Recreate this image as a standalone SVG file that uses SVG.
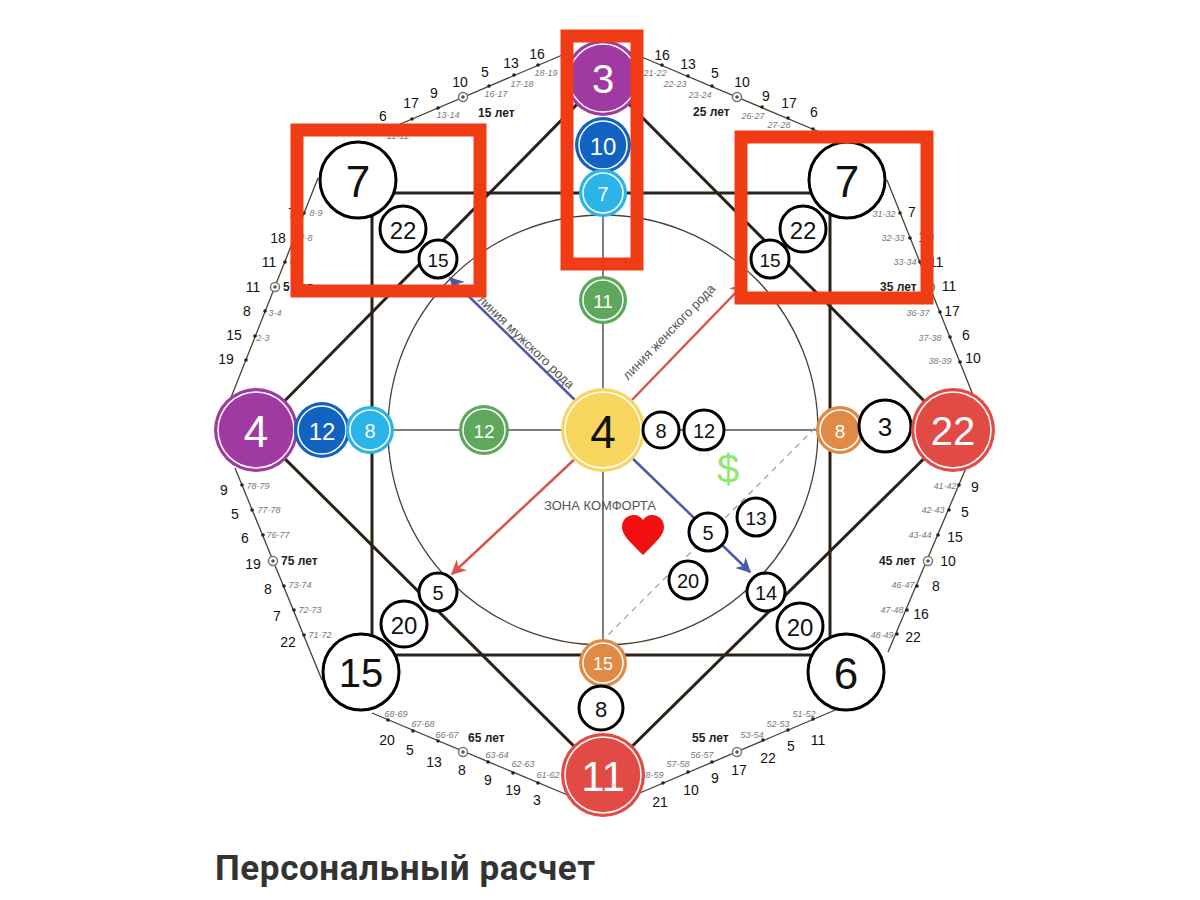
<svg xmlns="http://www.w3.org/2000/svg" width="1200" height="900" viewBox="0 0 1200 900">
<style>
.n{font-family:"Liberation Sans",Arial,sans-serif;font-size:14px;fill:#111;text-anchor:middle;dominant-baseline:central}
.a{font-family:"Liberation Sans",Arial,sans-serif;font-size:9px;font-style:italic;fill:#777;text-anchor:middle;dominant-baseline:central}
.y{font-family:"Liberation Sans",Arial,sans-serif;font-size:12px;font-weight:bold;fill:#222;dominant-baseline:central}
.c{font-family:"Liberation Sans",Arial,sans-serif;fill:#fff;text-anchor:middle;dominant-baseline:central}
.k{font-family:"Liberation Sans",Arial,sans-serif;fill:#111;text-anchor:middle;dominant-baseline:central}
.w{fill:#fff;stroke:#000;stroke-width:3}
.ring{fill:none;stroke:#fff;stroke-width:1.5}
.seg{stroke:#4a4030;stroke-width:1.3;fill:none}
.thick{stroke:#2a2118;stroke-width:3;fill:none}
.thin{stroke:#555;stroke-width:1.5;fill:none}
.box{fill:none;stroke:#f03c14;stroke-width:13}
</style>
<defs>
<marker id="mb" viewBox="0 0 10 10" refX="9" refY="5" markerWidth="6" markerHeight="6" orient="auto"><path d="M0,0 L10,5 L0,10 L3,5z" fill="#4a5aa8"/></marker>
<marker id="mr" viewBox="0 0 10 10" refX="9" refY="5" markerWidth="6" markerHeight="6" orient="auto"><path d="M0,0 L10,5 L0,10 L3,5z" fill="#d9534f"/></marker>
</defs>
<rect width="1200" height="900" fill="#fff"/>
<g id="connectors">
<circle cx="603" cy="430" r="215" class="seg"/>
<rect x="372" y="193" width="458" height="462" class="thick"/>
<path d="M603,78 L953,430 L603,775 L256,430 Z" class="thick"/>
<path d="M603,217 V640 M394,430 H930" class="thin"/>
<path d="M815,428 L605,638" stroke="#999" stroke-width="1.2" stroke-dasharray="6,5"/>
<path d="M577,402 L450,278" stroke="#4a5aa8" stroke-width="2.5" marker-end="url(#mb)"/>
<path d="M630,402 L744,284" stroke="#d9534f" stroke-width="2.5" marker-end="url(#mr)"/>
<path d="M578,456 L452,574" stroke="#d9534f" stroke-width="2.5" marker-end="url(#mr)"/>
<path d="M630,456 L750,572" stroke="#4a5aa8" stroke-width="2.5" marker-end="url(#mb)"/>
<path d="M377,134 L567,53 M625,50 L822,133 M887,180 L973,395 M966,468 L888,652 M840,708 L635,795 M372,713 L570,796 M235,468 L322,680 M318,178 L230,400" class="seg"/>
</g>
<g id="line-labels" font-family="Liberation Sans,Arial,sans-serif" font-size="13" fill="#555">
<text transform="translate(523,345) rotate(44)" text-anchor="middle">линия мужского рода</text>
<text transform="translate(672,335) rotate(-46)" text-anchor="middle">линия женского рода</text>
</g>
<g id="ticks" fill="#222">
<circle cx="412" cy="119" r="1.8"/><circle cx="438" cy="108" r="1.8"/><circle cx="489" cy="86" r="1.8"/><circle cx="514" cy="75" r="1.8"/><circle cx="538" cy="65" r="1.8"/>
<circle cx="662" cy="65" r="1.8"/><circle cx="688" cy="76" r="1.8"/><circle cx="712" cy="86" r="1.8"/><circle cx="762" cy="107" r="1.8"/><circle cx="788" cy="118" r="1.8"/><circle cx="813" cy="129" r="1.8"/>
<circle cx="900" cy="213" r="1.8"/><circle cx="910" cy="238" r="1.8"/><circle cx="920" cy="262" r="1.8"/><circle cx="940" cy="312" r="1.8"/><circle cx="950" cy="337" r="1.8"/><circle cx="960" cy="362" r="1.8"/>
<circle cx="959" cy="485" r="1.8"/><circle cx="949" cy="510" r="1.8"/><circle cx="938" cy="535" r="1.8"/><circle cx="917" cy="586" r="1.8"/><circle cx="907" cy="610" r="1.8"/><circle cx="897" cy="634" r="1.8"/>
<circle cx="663" cy="783" r="1.8"/><circle cx="688" cy="772" r="1.8"/><circle cx="712" cy="762" r="1.8"/><circle cx="763" cy="740" r="1.8"/><circle cx="788" cy="730" r="1.8"/><circle cx="813" cy="719" r="1.8"/>
<circle cx="388" cy="720" r="1.8"/><circle cx="413" cy="731" r="1.8"/><circle cx="438" cy="741" r="1.8"/><circle cx="488" cy="762" r="1.8"/><circle cx="513" cy="773" r="1.8"/><circle cx="538" cy="783" r="1.8"/>
<circle cx="242" cy="485" r="1.8"/><circle cx="252" cy="510" r="1.8"/><circle cx="263" cy="535" r="1.8"/><circle cx="284" cy="586" r="1.8"/><circle cx="294" cy="610" r="1.8"/><circle cx="304" cy="635" r="1.8"/>
<circle cx="304" cy="213" r="1.8"/><circle cx="294" cy="238" r="1.8"/><circle cx="285" cy="262" r="1.8"/><circle cx="265" cy="311" r="1.8"/><circle cx="255" cy="336" r="1.8"/><circle cx="246" cy="360" r="1.8"/>
<g fill="#fff" stroke="#777" stroke-width="1.5"><circle cx="463" cy="97" r="4.5"/><circle cx="737" cy="97" r="4.5"/><circle cx="930" cy="287" r="4.5"/><circle cx="928" cy="561" r="4.5"/><circle cx="737" cy="752" r="4.5"/><circle cx="463" cy="752" r="4.5"/><circle cx="273" cy="561" r="4.5"/><circle cx="275" cy="287" r="4.5"/></g>
<g fill="#555"><circle cx="463" cy="97" r="1.8"/><circle cx="737" cy="97" r="1.8"/><circle cx="930" cy="287" r="1.8"/><circle cx="928" cy="561" r="1.8"/><circle cx="737" cy="752" r="1.8"/><circle cx="463" cy="752" r="1.8"/><circle cx="273" cy="561" r="1.8"/><circle cx="275" cy="287" r="1.8"/></g>
</g>
<g id="scale-labels">
<text class="n" x="383" y="116">6</text><text class="n" x="411" y="103">17</text><text class="n" x="434" y="93">9</text><text class="n" x="460" y="82">10</text><text class="n" x="485" y="72">5</text><text class="n" x="511" y="63">13</text><text class="n" x="537" y="54">16</text>
<text class="a" x="398" y="136">11-12</text><text class="a" x="448" y="115">13-14</text><text class="y" x="478" y="113">15 лет</text><text class="a" x="496" y="94">16-17</text><text class="a" x="522" y="84">17-18</text><text class="a" x="546" y="73">18-19</text>
<text class="n" x="662" y="55">16</text><text class="n" x="688" y="64">13</text><text class="n" x="715" y="73">5</text><text class="n" x="742" y="82">10</text><text class="n" x="766" y="96">9</text><text class="n" x="789" y="103">17</text><text class="n" x="814" y="112">6</text>
<text class="a" x="655" y="73">21-22</text><text class="a" x="675" y="84">22-23</text><text class="a" x="700" y="95">23-24</text><text class="y" x="693" y="112">25 лет</text><text class="a" x="753" y="116">26-27</text><text class="a" x="779" y="125">27-28</text>
<text class="n" x="912" y="212">7</text><text class="a" x="884" y="214">31-32</text><text class="n" x="926" y="237">10</text><text class="a" x="893" y="238">32-33</text><text class="n" x="936" y="262">11</text><text class="a" x="905" y="262">33-34</text>
<text class="n" x="949" y="286">11</text><text class="y" x="880" y="287">35 лет</text><text class="n" x="952" y="311">17</text><text class="a" x="918" y="313">36-37</text><text class="n" x="966" y="335">6</text><text class="a" x="930" y="338">37-38</text><text class="n" x="973" y="358">10</text><text class="a" x="940" y="361">38-39</text>
<text class="n" x="975" y="487">9</text><text class="a" x="945" y="486">41-42</text><text class="n" x="965" y="512">5</text><text class="a" x="933" y="510">42-43</text><text class="n" x="955" y="537">15</text><text class="a" x="920" y="535">43-44</text>
<text class="n" x="948" y="561">10</text><text class="y" x="879" y="561">45 лет</text><text class="n" x="936" y="586">8</text><text class="a" x="903" y="585">46-47</text><text class="n" x="921" y="614">16</text><text class="a" x="892" y="610">47-48</text><text class="n" x="913" y="637">22</text><text class="a" x="882" y="635">48-49</text>
<text class="n" x="818" y="740">11</text><text class="a" x="804" y="714">51-52</text><text class="n" x="791" y="746">5</text><text class="a" x="778" y="724">52-53</text><text class="n" x="768" y="758">22</text><text class="a" x="752" y="735">53-54</text>
<text class="n" x="739" y="770">17</text><text class="y" x="692" y="738">55 лет</text><text class="n" x="715" y="778">9</text><text class="a" x="702" y="755">56-57</text><text class="n" x="691" y="790">10</text><text class="a" x="678" y="764">57-58</text><text class="n" x="660" y="802">21</text><text class="a" x="652" y="775">58-59</text>
<text class="n" x="387" y="740">20</text><text class="a" x="396" y="714">68-69</text><text class="n" x="410" y="750">5</text><text class="a" x="423" y="724">67-68</text><text class="n" x="434" y="762">13</text><text class="a" x="447" y="735">66-67</text>
<text class="n" x="462" y="770">8</text><text class="y" x="468" y="738">65 лет</text><text class="n" x="488" y="780">9</text><text class="a" x="497" y="755">63-64</text><text class="n" x="513" y="790">19</text><text class="a" x="523" y="764">62-63</text><text class="n" x="537" y="800">3</text><text class="a" x="548" y="775">61-62</text>
<text class="n" x="224" y="490">9</text><text class="a" x="258" y="486">78-79</text><text class="n" x="235" y="514">5</text><text class="a" x="269" y="510">77-78</text><text class="n" x="245" y="538">6</text><text class="a" x="278" y="535">76-77</text>
<text class="n" x="253" y="564">19</text><text class="y" x="281" y="561">75 лет</text><text class="n" x="268" y="589">8</text><text class="a" x="300" y="585">73-74</text><text class="n" x="277" y="616">7</text><text class="a" x="310" y="610">72-73</text><text class="n" x="288" y="642">22</text><text class="a" x="320" y="635">71-72</text>
<text class="n" x="292" y="213">7</text><text class="a" x="316" y="213">8-9</text><text class="n" x="278" y="238">18</text><text class="a" x="306" y="238">7-8</text><text class="n" x="269" y="262">11</text><text class="a" x="296" y="262">6-7</text>
<text class="n" x="253" y="287">11</text><text class="y" x="283" y="287">5 лет</text><text class="n" x="247" y="311">8</text><text class="a" x="275" y="313">3-4</text><text class="n" x="234" y="335">15</text><text class="a" x="263" y="338">2-3</text><text class="n" x="226" y="359">19</text>
</g>
<g id="node-top-3"><circle cx="603" cy="78" r="38" fill="#a03aa2"/><circle cx="603" cy="78" r="34" class="ring"/><text class="c" x="603" y="79" font-size="40">3</text></g>
<g id="node-top-10"><circle cx="603" cy="145" r="28" fill="#1262c2"/><circle cx="603" cy="145" r="24" class="ring"/><text class="c" x="603" y="146" font-size="24">10</text></g>
<g id="node-top-7"><circle cx="603" cy="193" r="24" fill="#2ab4e8"/><circle cx="603" cy="193" r="20" class="ring"/><text class="c" x="603" y="194" font-size="20">7</text></g>
<g id="node-top-11"><circle cx="603" cy="300" r="24" fill="#5ea85e"/><circle cx="603" cy="300" r="20" class="ring"/><text class="c" x="603" y="301" font-size="19">11</text></g>
<g id="node-left-4"><circle cx="256" cy="430" r="42" fill="#a03aa2"/><circle cx="256" cy="430" r="38" class="ring"/><text class="c" x="256" y="431" font-size="44">4</text></g>
<g id="node-left-12"><circle cx="322" cy="430" r="28" fill="#1262c2"/><circle cx="322" cy="430" r="24" class="ring"/><text class="c" x="322" y="431" font-size="24">12</text></g>
<g id="node-left-8"><circle cx="370" cy="430" r="24" fill="#2ab4e8"/><circle cx="370" cy="430" r="20" class="ring"/><text class="c" x="370" y="431" font-size="20">8</text></g>
<g id="node-left-12g"><circle cx="484" cy="430" r="25" fill="#5ea85e"/><circle cx="484" cy="430" r="21" class="ring"/><text class="c" x="484" y="431" font-size="19">12</text></g>
<g id="node-center-4"><circle cx="603" cy="430" r="42" fill="#f8d55e"/><circle cx="603" cy="430" r="38" class="ring"/><text class="k" x="603" y="432" font-size="46">4</text></g>
<g id="node-c8"><circle cx="661" cy="430" r="18" class="w"/><text class="k" x="661" y="431" font-size="20">8</text></g>
<g id="node-c12"><circle cx="704" cy="430" r="20" class="w"/><text class="k" x="704" y="431" font-size="20">12</text></g>
<g id="node-right-8"><circle cx="840" cy="430" r="24" fill="#e08a45"/><circle cx="840" cy="430" r="20" class="ring"/><text class="c" x="840" y="431" font-size="19">8</text></g>
<g id="node-right-3"><circle cx="885" cy="426" r="26" class="w"/><text class="k" x="885" y="427" font-size="26">3</text></g>
<g id="node-right-22"><circle cx="953" cy="430" r="42" fill="#e24a45"/><circle cx="953" cy="430" r="38" class="ring"/><text class="c" x="953" y="431" font-size="40">22</text></g>
<g id="node-bottom-15"><circle cx="603" cy="663" r="24" fill="#e08a45"/><circle cx="603" cy="663" r="20" class="ring"/><text class="c" x="603" y="664" font-size="18">15</text></g>
<g id="node-bottom-8"><circle cx="601" cy="708" r="22" class="w"/><text class="k" x="601" y="709" font-size="22">8</text></g>
<g id="node-bottom-11"><circle cx="603" cy="775" r="42" fill="#e24a45"/><circle cx="603" cy="775" r="38" class="ring"/><text class="c" x="603" y="776" font-size="42">11</text></g>
<g id="node-tl-7"><circle cx="358" cy="180" r="38" class="w" stroke-width="5"/><text class="k" x="358" y="181" font-size="44">7</text></g>
<g id="node-tl-22"><circle cx="403" cy="229" r="23" class="w"/><text class="k" x="403" y="230" font-size="24">22</text></g>
<g id="node-tl-15"><circle cx="438" cy="259" r="19" class="w"/><text class="k" x="438" y="260" font-size="19">15</text></g>
<g id="node-tr-7"><circle cx="847" cy="180" r="38" class="w" stroke-width="5"/><text class="k" x="847" y="181" font-size="44">7</text></g>
<g id="node-tr-22"><circle cx="803" cy="229" r="23" class="w"/><text class="k" x="803" y="230" font-size="24">22</text></g>
<g id="node-tr-15"><circle cx="770" cy="259" r="19" class="w"/><text class="k" x="770" y="260" font-size="19">15</text></g>
<g id="node-bl-15"><circle cx="361" cy="672" r="38" class="w" stroke-width="5"/><text class="k" x="361" y="673" font-size="40">15</text></g>
<g id="node-bl-20"><circle cx="404" cy="624" r="23" class="w"/><text class="k" x="404" y="625" font-size="24">20</text></g>
<g id="node-bl-5"><circle cx="438" cy="592" r="19" class="w"/><text class="k" x="438" y="593" font-size="20">5</text></g>
<g id="node-br-6"><circle cx="846" cy="672" r="38" class="w" stroke-width="5"/><text class="k" x="846" y="673" font-size="44">6</text></g>
<g id="node-br-20"><circle cx="800" cy="626" r="23" class="w"/><text class="k" x="800" y="627" font-size="24">20</text></g>
<g id="node-br-14"><circle cx="766" cy="592" r="19" class="w"/><text class="k" x="766" y="593" font-size="20">14</text></g>
<g id="node-m5"><circle cx="708" cy="532" r="19" class="w"/><text class="k" x="708" y="533" font-size="20">5</text></g>
<g id="node-m13"><circle cx="756" cy="517" r="19" class="w"/><text class="k" x="756" y="518" font-size="19">13</text></g>
<g id="node-m20"><circle cx="688" cy="580" r="19" class="w"/><text class="k" x="688" y="581" font-size="20">20</text></g>
<g id="symbols">
<text x="728" y="469" font-family="Liberation Sans,Arial,sans-serif" font-size="40" fill="#8ee86e" text-anchor="middle" dominant-baseline="central">$</text>
<path d="M643,555 C630,542 622,535 622,527 C622,519 628,515 634,515 C638,515 641,517 643,520 C645,517 648,515 652,515 C658,515 664,519 664,527 C664,535 656,542 643,555 Z" fill="#f01010"/>
<text x="600" y="505" font-family="Liberation Sans,Arial,sans-serif" font-size="13" fill="#555" text-anchor="middle" dominant-baseline="central">ЗОНА КОМФОРТА</text>
</g>
<g id="highlights">
<rect x="297" y="130" width="183" height="161" class="box"/>
<rect x="567" y="36" width="70" height="228" class="box"/>
<rect x="741" y="137" width="186" height="161" class="box"/>
</g>
<text x="215" y="880" font-family="Roboto,Liberation Sans,sans-serif" font-size="35" font-weight="bold" fill="#333" textLength="380">Персональный расчет</text>
</svg>
